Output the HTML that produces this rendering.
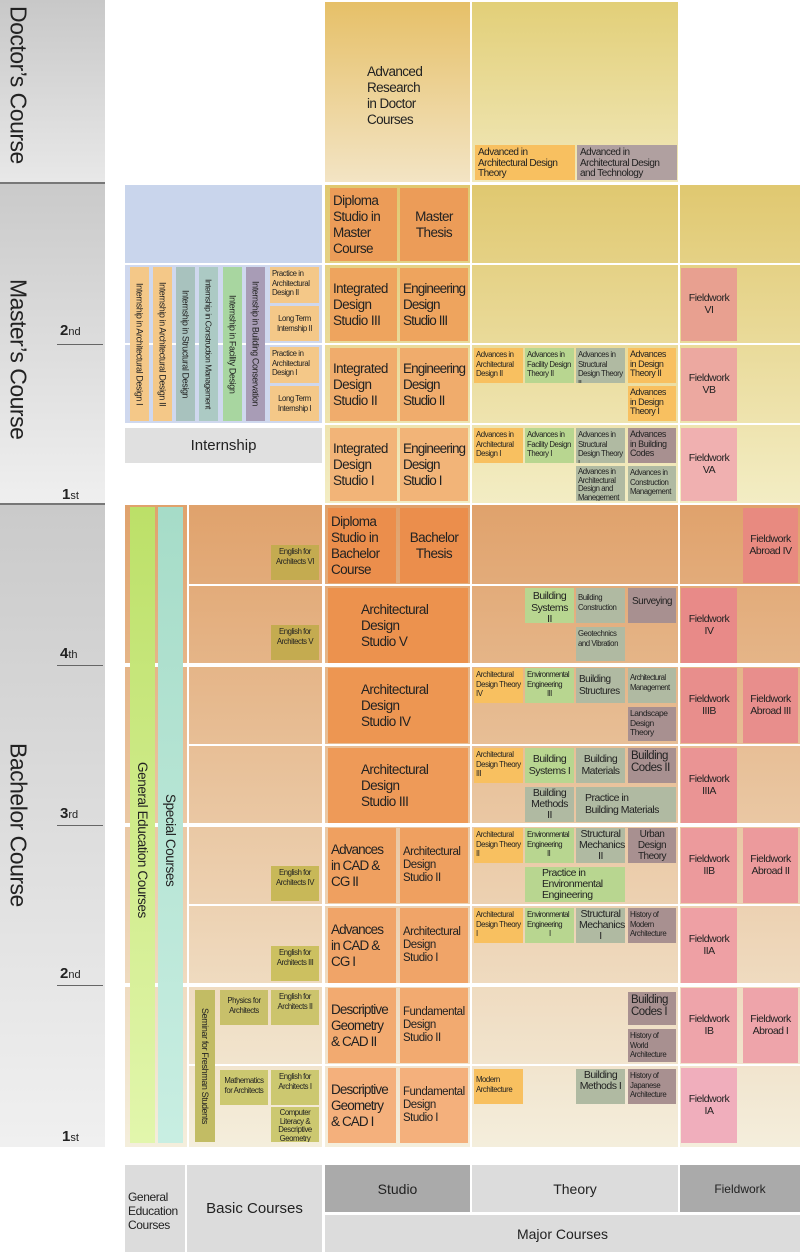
<!DOCTYPE html>
<html><head><meta charset="utf-8">
<style>
*{margin:0;padding:0;box-sizing:border-box}
body{width:800px;height:1252px;position:relative;background:#fff;font-family:"Liberation Sans",sans-serif;color:#222;overflow:hidden}
div{position:absolute;overflow:hidden}
.s{font-size:7.8px;line-height:9.5px;padding:2px 2px;letter-spacing:-0.45px}
.m{font-size:10.5px;line-height:11.5px;padding:3px 3px;letter-spacing:-0.5px}
.l{font-size:13.5px;line-height:16px;padding:3px 3px;letter-spacing:-0.6px}
.c{text-align:center}
.vc{display:flex;align-items:center}
.vcc{display:flex;align-items:center;justify-content:center;text-align:center}
.v{writing-mode:vertical-rl;display:flex;align-items:center;justify-content:center;font-size:9px;white-space:nowrap;letter-spacing:-0.4px}
.yr{font-size:15px;font-weight:bold;color:#222}
.yr span{font-size:11px;font-weight:normal}
.ln{height:1px;background:#666}
.big{writing-mode:vertical-rl;font-size:23px;white-space:nowrap;color:#222;display:flex;align-items:center;justify-content:center;letter-spacing:-0.5px}
.o{background:#f8c060}.g{background:#b8d690}.gr{background:#b0baa2}.p{background:#a89090}.e{background:#c4ab50}
</style></head><body>
<!-- left panel -->
<div style="left:0;top:0;width:105px;height:182px;background:linear-gradient(#c8c8c8,#e8e8e8)"></div>
<div style="left:0;top:182px;width:105px;height:2px;background:#777"></div>
<div style="left:0;top:184px;width:105px;height:319px;background:linear-gradient(#cacaca,#efefef)"></div>
<div style="left:0;top:503px;width:105px;height:2px;background:#777"></div>
<div style="left:0;top:505px;width:105px;height:642px;background:linear-gradient(#cacaca,#f0f0f0)"></div>
<div class="big" style="left:2px;top:2px;width:32px;height:166px">Doctor’s Course</div>
<div class="big" style="left:2px;top:258px;width:32px;height:202px">Master’s Course</div>
<div class="big" style="left:2px;top:722px;width:32px;height:206px">Bachelor Course</div>
<div class="yr" style="left:60px;top:322px">2<span>nd</span></div><div class="ln" style="left:57px;top:344px;width:46px"></div>
<div class="yr" style="left:62px;top:486px">1<span>st</span></div>
<div class="yr" style="left:60px;top:645px">4<span>th</span></div><div class="ln" style="left:57px;top:665px;width:46px"></div>
<div class="yr" style="left:60px;top:805px">3<span>rd</span></div><div class="ln" style="left:57px;top:825px;width:46px"></div>
<div class="yr" style="left:60px;top:965px">2<span>nd</span></div><div class="ln" style="left:57px;top:985px;width:46px"></div>
<div class="yr" style="left:62px;top:1128px">1<span>st</span></div>

<!-- doctor -->
<div class="l" style="left:325px;top:2px;width:145px;height:180px;background:linear-gradient(#e6c068,#f3e4c4);padding:62px 0 0 42px">Advanced<br>Research<br>in Doctor<br>Courses</div>
<div style="left:472px;top:2px;width:206px;height:180px;background:linear-gradient(#e2cf78,#f1e8ba)"></div>
<div class="m" style="left:475px;top:145px;width:100px;height:35px;background:#f8c060;line-height:10.5px;font-size:10px">Advanced in Architectural Design Theory</div>
<div class="m" style="left:577px;top:145px;width:100px;height:35px;background:#b0a0a0;line-height:10.5px;font-size:10px">Advanced in Architectural Design and Technology</div>

<!-- master background -->
<div style="left:325px;top:185px;width:475px;height:318px;background:linear-gradient(#e0c870,#f3edc4)"></div>
<div style="left:125px;top:185px;width:197px;height:78px;background:#c9d5ec"></div>
<div style="left:125px;top:265px;width:197px;height:158px;background:#cfd8ee"></div>
<div style="left:470px;top:185px;width:2px;height:318px;background:#fff"></div>
<div style="left:678px;top:185px;width:2px;height:318px;background:#fff"></div>
<div style="left:325px;top:263px;width:475px;height:2px;background:#fff"></div>
<div style="left:125px;top:343px;width:675px;height:2px;background:#fff"></div>
<div style="left:325px;top:423px;width:475px;height:2px;background:#fff"></div>
<div class="v" style="left:130px;top:267px;width:19px;height:154px;background:#f4c888">Internship in Architectural Design I</div>
<div class="v" style="left:153px;top:267px;width:19px;height:154px;background:#f4c888">Internship in Architectural Design II</div>
<div class="v" style="left:176px;top:267px;width:19px;height:154px;background:#a8c2be">Internship in Structural Design</div>
<div class="v" style="left:199px;top:267px;width:19px;height:154px;background:#accac4;font-size:8.5px;letter-spacing:-0.5px">Internship in Construction Management</div>
<div class="v" style="left:223px;top:267px;width:19px;height:154px;background:#a8d6a0">Internship in Facility Design</div>
<div class="v" style="left:246px;top:267px;width:19px;height:154px;background:#a89cb6">Internship in Building Conservation</div>
<div class="s" style="left:270px;top:267px;width:49px;height:36px;background:#f4c888">Practice in Architectural Design II</div>
<div class="s vcc" style="left:270px;top:306px;width:49px;height:35px;background:#f4c888">Long Term Internship II</div>
<div class="s" style="left:270px;top:347px;width:49px;height:36px;background:#f4c888">Practice in Architectural Design I</div>
<div class="s vcc" style="left:270px;top:386px;width:49px;height:35px;background:#f4c888">Long Term Internship I</div>
<div class="vcc" style="left:125px;top:428px;width:197px;height:35px;background:#e0e0e0;font-size:15px">Internship</div>

<div class="l vc" style="left:330px;top:188px;width:67px;height:73px;background:#ec9c58">Diploma Studio in Master Course</div>
<div class="l vcc" style="left:400px;top:188px;width:68px;height:73px;background:#ec9c58">Master Thesis</div>
<div class="l vc" style="left:330px;top:268px;width:67px;height:73px;background:#eea45e">Integrated Design Studio III</div>
<div class="l vc" style="left:400px;top:268px;width:68px;height:73px;background:#eea45e;letter-spacing:-0.9px">Engineering Design Studio III</div>
<div class="l vc" style="left:330px;top:348px;width:67px;height:73px;background:#f0ac6c">Integrated Design Studio II</div>
<div class="l vc" style="left:400px;top:348px;width:68px;height:73px;background:#f0ac6c;letter-spacing:-0.9px">Engineering Design Studio II</div>
<div class="l vc" style="left:330px;top:428px;width:67px;height:73px;background:#f2b478">Integrated Design Studio I</div>
<div class="l vc" style="left:400px;top:428px;width:68px;height:73px;background:#f2b478;letter-spacing:-0.9px">Engineering Design Studio I</div>

<div class="s o" style="left:474px;top:348px;width:49px;height:35px">Advances in Architectural Design II</div>
<div class="s g" style="left:525px;top:348px;width:49px;height:35px">Advances in Facility Design Theory II</div>
<div class="s gr" style="left:576px;top:348px;width:49px;height:35px">Advances in Structural Design Theory II</div>
<div class="s o" style="left:628px;top:348px;width:48px;height:35px;font-size:9px">Advances in Design Theory II</div>
<div class="s o" style="left:628px;top:386px;width:48px;height:35px;font-size:9px">Advances in Design Theory I</div>
<div class="s o" style="left:474px;top:428px;width:49px;height:35px">Advances in Architectural Design I</div>
<div class="s g" style="left:525px;top:428px;width:49px;height:35px">Advances in Facility Design Theory I</div>
<div class="s gr" style="left:576px;top:428px;width:49px;height:35px">Advances in Structural Design Theory I</div>
<div class="s p" style="left:628px;top:428px;width:48px;height:35px;font-size:9px">Advances in Building Codes</div>
<div class="s gr" style="left:576px;top:466px;width:49px;height:35px;line-height:8.5px">Advances in Architectural Design and Manegement</div>
<div class="s gr" style="left:628px;top:466px;width:48px;height:35px">Advances in Construction Management</div>

<div class="m vcc" style="left:681px;top:268px;width:56px;height:73px;background:#e8a090">Fieldwork<br>VI</div>
<div class="m vcc" style="left:681px;top:348px;width:56px;height:73px;background:#eca8a0">Fieldwork<br>VB</div>
<div class="m vcc" style="left:681px;top:428px;width:56px;height:73px;background:#f0b0b0">Fieldwork<br>VA</div>

<!-- bachelor background -->
<div style="left:125px;top:505px;width:675px;height:642px;background:linear-gradient(#e0a26c,#f4eedc)"></div>
<div style="left:187px;top:505px;width:2px;height:642px;background:#fff"></div>
<div style="left:322px;top:505px;width:3px;height:642px;background:#fff"></div>
<div style="left:470px;top:505px;width:2px;height:642px;background:#fff"></div>
<div style="left:678px;top:505px;width:2px;height:642px;background:#fff"></div>
<div style="left:189px;top:584px;width:611px;height:2px;background:#fff"></div>
<div style="left:125px;top:663px;width:675px;height:4px;background:#fff"></div>
<div style="left:189px;top:744px;width:611px;height:2px;background:#fff"></div>
<div style="left:125px;top:823px;width:675px;height:4px;background:#fff"></div>
<div style="left:189px;top:904px;width:611px;height:2px;background:#fff"></div>
<div style="left:125px;top:983px;width:675px;height:4px;background:#fff"></div>
<div style="left:189px;top:1064px;width:611px;height:2px;background:#fff"></div>
<div style="left:130px;top:507px;width:25px;height:636px;background:linear-gradient(#bce068,#e2f6ac)"></div>
<div style="left:158px;top:507px;width:25px;height:636px;background:linear-gradient(#a6dcc8,#c8eee2)"></div>
<div class="v" style="left:130px;top:740px;width:25px;height:200px;font-size:13.5px">General Education Courses</div>
<div class="v" style="left:158px;top:780px;width:25px;height:120px;font-size:13.5px">Special Courses</div>

<div class="s c e" style="left:271px;top:545px;width:48px;height:35px">English for Architects VI</div>
<div class="s c e" style="left:271px;top:625px;width:48px;height:35px">English for Architects V</div>
<div class="s c e" style="left:271px;top:866px;width:48px;height:35px;background:#c8b858">English for Architects IV</div>
<div class="s c e" style="left:271px;top:946px;width:48px;height:35px;background:#ccc060">English for Architects III</div>
<div class="v" style="left:195px;top:990px;width:20px;height:152px;background:#c2bc64">Seminar for Freshman Students</div>
<div class="s c" style="left:220px;top:990px;width:48px;height:35px;background:#c8c06a;padding-top:6px">Physics for Architects</div>
<div class="s c" style="left:271px;top:990px;width:48px;height:35px;background:#ccc46c">English for Architects II</div>
<div class="s c" style="left:220px;top:1070px;width:48px;height:35px;background:#ccc870;padding-top:6px">Mathematics for Architects</div>
<div class="s c" style="left:271px;top:1070px;width:48px;height:35px;background:#ccc870">English for Architects I</div>
<div class="s c" style="left:271px;top:1107px;width:48px;height:35px;background:#ccc870;line-height:8.5px">Computer Literacy &amp; Descriptive Geometry</div>

<div class="l vc" style="left:328px;top:508px;width:68px;height:75px;background:#eb8e4c">Diploma Studio in Bachelor Course</div>
<div class="l vcc" style="left:400px;top:508px;width:68px;height:75px;background:#eb8e4c">Bachelor Thesis</div>
<div class="l vc" style="left:328px;top:588px;width:140px;height:75px;background:#ec924e;padding-left:33px">Architectural<br>Design<br>Studio V</div>
<div class="l vc" style="left:328px;top:668px;width:140px;height:75px;background:#ed9652;padding-left:33px">Architectural<br>Design<br>Studio IV</div>
<div class="l vc" style="left:328px;top:748px;width:140px;height:75px;background:#ee9a58;padding-left:33px">Architectural<br>Design<br>Studio III</div>
<div class="l vc" style="left:328px;top:828px;width:68px;height:75px;background:#efa060;letter-spacing:-0.9px">Advances in CAD &amp; CG II</div>
<div class="m vc" style="left:400px;top:828px;width:68px;height:75px;background:#efa060;font-size:11.5px;line-height:13px">Architectural Design Studio II</div>
<div class="l vc" style="left:328px;top:908px;width:68px;height:75px;background:#f0a468;letter-spacing:-0.9px">Advances in CAD &amp; CG I</div>
<div class="m vc" style="left:400px;top:908px;width:68px;height:75px;background:#f0a468;font-size:11.5px;line-height:13px">Architectural Design Studio I</div>
<div class="l vc" style="left:328px;top:988px;width:68px;height:75px;background:#f2aa70;letter-spacing:-0.9px">Descriptive Geometry &amp; CAD II</div>
<div class="m vc" style="left:400px;top:988px;width:68px;height:75px;background:#f2aa70;font-size:11.5px;line-height:13px">Fundamental Design Studio II</div>
<div class="l vc" style="left:328px;top:1068px;width:68px;height:75px;background:#f4b07c;letter-spacing:-0.9px">Descriptive Geometry &amp; CAD I</div>
<div class="m vc" style="left:400px;top:1068px;width:68px;height:75px;background:#f4b07c;font-size:11.5px;line-height:13px">Fundamental Design Studio I</div>

<!-- theory -->
<div class="m c g" style="left:525px;top:588px;width:49px;height:35px">Building Systems II</div>
<div class="s gr" style="left:576px;top:588px;width:49px;height:35px;padding-top:5px">Building Construction</div>
<div class="m c p" style="left:628px;top:588px;width:48px;height:35px;padding-top:8px;font-size:10px">Surveying</div>
<div class="s gr" style="left:576px;top:627px;width:49px;height:34px">Geotechnics and Vibration</div>

<div class="s o" style="left:474px;top:668px;width:49px;height:35px">Architectural Design Theory IV</div>
<div class="s g" style="left:525px;top:668px;width:49px;height:35px;letter-spacing:-0.6px">Environmental Engineering<br><span style="padding-left:20px">III</span></div>
<div class="m gr" style="left:576px;top:668px;width:49px;height:35px;font-size:10px;padding-top:6px">Building Structures</div>
<div class="s gr" style="left:628px;top:668px;width:48px;height:35px;padding-top:5px;letter-spacing:-0.6px">Architectural Management</div>
<div class="s p" style="left:628px;top:707px;width:48px;height:34px;font-size:8.5px">Landscape Design Theory</div>

<div class="s o" style="left:474px;top:748px;width:49px;height:35px">Architectural Design Theory III</div>
<div class="m c g" style="left:525px;top:748px;width:49px;height:35px;padding-top:6px">Building Systems I</div>
<div class="m c gr" style="left:576px;top:748px;width:49px;height:35px;padding-top:6px">Building Materials</div>
<div class="m p" style="left:628px;top:748px;width:48px;height:35px;font-size:11.5px">Building Codes II</div>
<div class="m c gr" style="left:525px;top:787px;width:49px;height:35px;padding-top:1px;line-height:11px">Building Methods II</div>
<div class="m gr" style="left:576px;top:787px;width:100px;height:35px;padding:6px 0 0 9px">Practice in<br>Building Materials</div>

<div class="s o" style="left:474px;top:828px;width:49px;height:35px">Architectural Design Theory II</div>
<div class="s g" style="left:525px;top:828px;width:49px;height:35px;letter-spacing:-0.6px">Environmental Engineering<br><span style="padding-left:20px">II</span></div>
<div class="m c gr" style="left:576px;top:828px;width:49px;height:35px;padding-top:1px;line-height:11px">Structural Mechanics II</div>
<div class="m c p" style="left:628px;top:828px;width:48px;height:35px;padding-top:1px;line-height:11px;font-size:10px">Urban Design Theory</div>
<div class="m g" style="left:525px;top:867px;width:100px;height:35px;padding:1px 0 0 17px;line-height:11px">Practice in<br>Environmental<br>Engineering</div>

<div class="s o" style="left:474px;top:908px;width:49px;height:35px">Architectural Design Theory I</div>
<div class="s g" style="left:525px;top:908px;width:49px;height:35px;letter-spacing:-0.6px">Environmental Engineering<br><span style="padding-left:22px">I</span></div>
<div class="m c gr" style="left:576px;top:908px;width:49px;height:35px;padding-top:1px;line-height:11px">Structural Mechanics I</div>
<div class="s p" style="left:628px;top:908px;width:48px;height:35px">History of Modern Architecture</div>

<div class="m p" style="left:628px;top:992px;width:48px;height:33px;font-size:11.5px">Building Codes I</div>
<div class="s p" style="left:628px;top:1029px;width:48px;height:33px">History of World Architecture</div>
<div class="s o" style="left:474px;top:1069px;width:49px;height:35px;padding-top:6px">Modern Architecture</div>
<div class="m c gr" style="left:576px;top:1069px;width:49px;height:35px;padding-top:1px;line-height:11px">Building Methods I</div>
<div class="s p" style="left:628px;top:1069px;width:48px;height:35px">History of Japanese Architecture</div>

<!-- fieldwork -->
<div class="m vcc" style="left:743px;top:508px;width:55px;height:75px;background:#e88a80">Fieldwork Abroad IV</div>
<div class="m vcc" style="left:681px;top:588px;width:56px;height:75px;background:#e88a88">Fieldwork<br>IV</div>
<div class="m vcc" style="left:681px;top:668px;width:56px;height:75px;background:#e88e8c">Fieldwork<br>IIIB</div>
<div class="m vcc" style="left:743px;top:668px;width:55px;height:75px;background:#e88e8c">Fieldwork Abroad III</div>
<div class="m vcc" style="left:681px;top:748px;width:56px;height:75px;background:#ea9494">Fieldwork<br>IIIA</div>
<div class="m vcc" style="left:681px;top:828px;width:56px;height:75px;background:#ec9a9c">Fieldwork<br>IIB</div>
<div class="m vcc" style="left:743px;top:828px;width:55px;height:75px;background:#ec9a9c">Fieldwork Abroad II</div>
<div class="m vcc" style="left:681px;top:908px;width:56px;height:75px;background:#eea0a4">Fieldwork<br>IIA</div>
<div class="m vcc" style="left:681px;top:988px;width:56px;height:75px;background:#eea4aa">Fieldwork<br>IB</div>
<div class="m vcc" style="left:743px;top:988px;width:55px;height:75px;background:#eea4aa">Fieldwork Abroad I</div>
<div class="m vcc" style="left:681px;top:1068px;width:56px;height:75px;background:#f0aebc">Fieldwork<br>IA</div>

<!-- legend -->
<div style="left:125px;top:1165px;width:60px;height:87px;background:#dcdcdc;font-size:12px;line-height:14px;padding:25px 0 0 3px;letter-spacing:-0.4px">General Education Courses</div>
<div class="vcc" style="left:187px;top:1165px;width:135px;height:87px;background:#dcdcdc;font-size:15px">Basic Courses</div>
<div class="vcc" style="left:325px;top:1165px;width:145px;height:47px;background:#aaaaaa;font-size:14px">Studio</div>
<div class="vcc" style="left:472px;top:1165px;width:206px;height:47px;background:#dcdcdc;font-size:14px">Theory</div>
<div class="vcc" style="left:680px;top:1165px;width:120px;height:47px;background:#aaaaaa;font-size:12px">Fieldwork</div>
<div class="vcc" style="left:325px;top:1215px;width:475px;height:37px;background:#dcdcdc;font-size:14px">Major Courses</div>
</body></html>
